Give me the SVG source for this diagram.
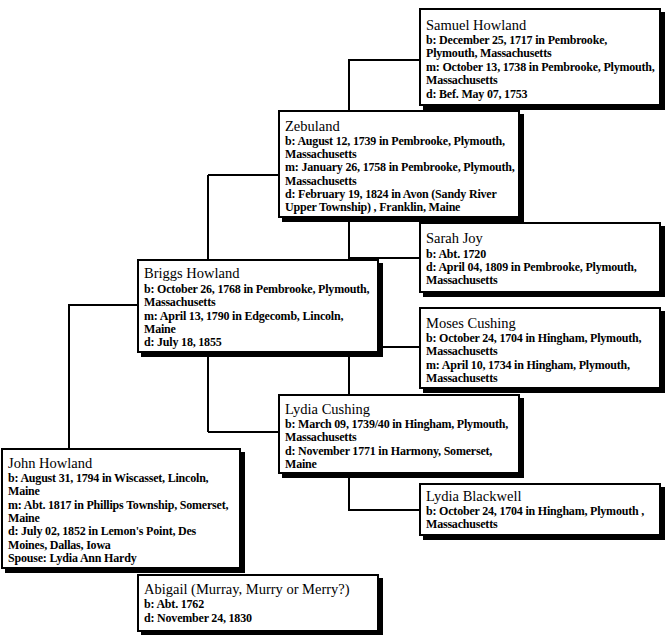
<svg xmlns="http://www.w3.org/2000/svg" width="665" height="635" viewBox="0 0 665 635">
<style>
.sh{fill:#000}
.bx{fill:#fff;stroke:#000;stroke-width:2}
.n{font-family:"Liberation Serif","Times New Roman",serif;font-size:14.5px}
.d{font-family:"Liberation Serif","Times New Roman",serif;font-size:12px;font-weight:bold;letter-spacing:-0.2px}
.c{stroke:#000;stroke-width:2;fill:none}
</style>
<rect width="665" height="635" fill="#fff"/>
<g id="connectors">
<path class="c" d="M208 175V432M208 175H278M208 432H278M349 110V60H419M349 217V258H419M349 394V347H419M349 473V510H419M69 448V305H137M208 352V259"/>
</g>
<g id="samuel"><rect class="sh" x="423" y="12" width="242" height="98"/><rect class="bx" x="420" y="9" width="240" height="96"/>
<text class="n" x="426" y="30">Samuel Howland</text><text class="d" x="426" y="44">b: December 25, 1717 in Pembrooke,</text><text class="d" x="426" y="57">Plymouth, Massachusetts</text><text class="d" x="426" y="71">m: October 13, 1738 in Pembrooke, Plymouth,</text><text class="d" x="426" y="84">Massachusetts</text><text class="d" x="426" y="98">d: Bef. May 07, 1753</text></g>
<g id="zebuland"><rect class="sh" x="282" y="114" width="242" height="108"/><rect class="bx" x="279" y="111" width="240" height="106"/>
<text class="n" x="285" y="131">Zebuland</text><text class="d" x="285" y="145">b: August 12, 1739 in Pembrooke, Plymouth,</text><text class="d" x="285" y="158">Massachusetts</text><text class="d" x="285" y="171">m: January 26, 1758 in Pembrooke, Plymouth,</text><text class="d" x="285" y="185">Massachusetts</text><text class="d" x="285" y="198">d: February 19, 1824 in Avon (Sandy River</text><text class="d" x="285" y="211">Upper Township) , Franklin, Maine</text></g>
<g id="sarah"><rect class="sh" x="423" y="226" width="242" height="71"/><rect class="bx" x="420" y="223" width="240" height="69"/>
<text class="n" x="426" y="243">Sarah Joy</text><text class="d" x="426" y="258">b: Abt. 1720</text><text class="d" x="426" y="271">d: April 04, 1809 in Pembrooke, Plymouth,</text><text class="d" x="426" y="284">Massachusetts</text></g>
<g id="briggs"><rect class="sh" x="141" y="263" width="242" height="94"/><rect class="bx" x="138" y="260" width="240" height="92"/>
<text class="n" x="144" y="278">Briggs Howland</text><text class="d" x="144" y="293">b: October 26, 1768 in Pembrooke, Plymouth,</text><text class="d" x="144" y="306">Massachusetts</text><text class="d" x="144" y="320">m: April 13, 1790 in Edgecomb, Lincoln,</text><text class="d" x="144" y="333">Maine</text><text class="d" x="144" y="346">d: July 18, 1855</text></g>
<g id="moses"><rect class="sh" x="423" y="311" width="242" height="82"/><rect class="bx" x="420" y="308" width="240" height="80"/>
<text class="n" x="426" y="328">Moses Cushing</text><text class="d" x="426" y="342">b: October 24, 1704 in Hingham,  Plymouth,</text><text class="d" x="426" y="355">Massachusetts</text><text class="d" x="426" y="369">m: April 10, 1734 in Hingham, Plymouth,</text><text class="d" x="426" y="382">Massachusetts</text></g>
<g id="lydiac"><rect class="sh" x="282" y="398" width="242" height="80"/><rect class="bx" x="279" y="395" width="240" height="78"/>
<text class="n" x="285" y="414">Lydia Cushing</text><text class="d" x="285" y="428">b: March 09, 1739/40 in Hingham, Plymouth,</text><text class="d" x="285" y="441">Massachusetts</text><text class="d" x="285" y="455">d: November 1771 in Harmony, Somerset,</text><text class="d" x="285" y="468">Maine</text></g>
<g id="lydiab"><rect class="sh" x="423" y="487" width="242" height="53"/><rect class="bx" x="420" y="484" width="240" height="51"/>
<text class="n" x="426" y="501">Lydia Blackwell</text><text class="d" x="426" y="515">b: October 24, 1704 in Hingham, Plymouth ,</text><text class="d" x="426" y="528">Massachusetts</text></g>
<g id="john"><rect class="sh" x="5" y="452" width="240" height="121"/><rect class="bx" x="2" y="449" width="238" height="119"/>
<text class="n" x="8" y="468">John Howland</text><text class="d" x="8" y="482">b: August 31, 1794 in Wiscasset, Lincoln,</text><text class="d" x="8" y="495">Maine</text><text class="d" x="8" y="509">m: Abt. 1817 in Phillips Township, Somerset,</text><text class="d" x="8" y="522">Maine</text><text class="d" x="8" y="535">d: July 02, 1852 in Lemon's Point, Des</text><text class="d" x="8" y="549">Moines, Dallas, Iowa</text><text class="d" x="8" y="562">Spouse: Lydia Ann Hardy</text></g>
<g id="abigail"><rect class="sh" x="141" y="578" width="242" height="57"/><rect class="bx" x="138" y="575" width="240" height="56"/>
<text class="n" x="144" y="594">Abigail (Murray, Murry or Merry?)</text><text class="d" x="144" y="608">b: Abt. 1762</text><text class="d" x="144" y="622">d: November 24, 1830</text></g>
</svg>
